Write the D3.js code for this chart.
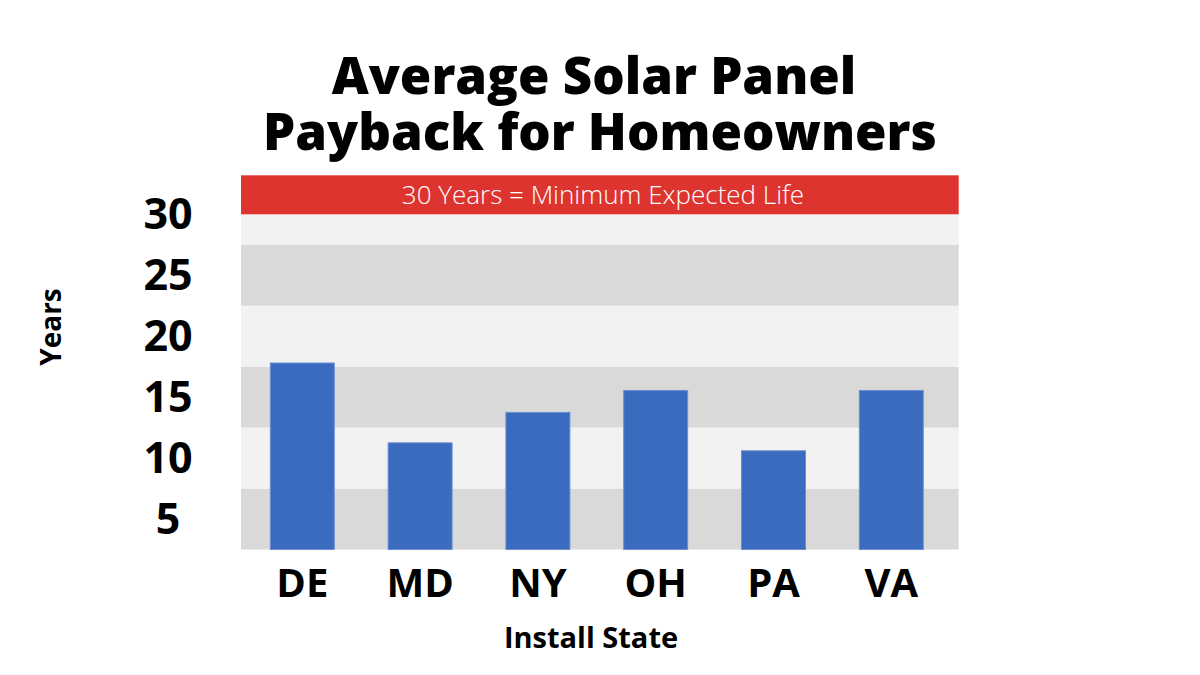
<!DOCTYPE html>
<html>
<head>
<meta charset="utf-8">
<script src="https://cdnjs.cloudflare.com/ajax/libs/d3/7.8.5/d3.min.js"></script>
<style>
  body { margin: 0; background: #fff; }
  text { font-family: "Open Sans", sans-serif; }
</style>
</head>
<body>
<div class="canvas"></div>
<script>
// data
const states = ['DE', 'MD', 'NY', 'OH', 'PA', 'VA'];
const paybackYears = [17.8, 11.25, 13.75, 15.55, 10.6, 15.55];
const tickValues = [5, 10, 15, 20, 25, 30];
// alternating background bands [from, to]
const bandRanges = [[2.5, 7.5], [7.5, 12.5], [12.5, 17.5], [17.5, 22.5], [22.5, 27.5], [27.5, 30]];
const lifeBand = [30, 33.2];
const lifeLabel = '30 Years = Minimum Expected Life';

const BAR_COLOR = '#3a6bbf';
const DARK_BAND = '#d9d9d9';
const LIGHT_BAND = '#f2f2f2';
const RED = '#dd3430';

const svg = d3.select('.canvas')
  .append('svg')
    .attr('width', 1200)
    .attr('height', 675);

const plotLeft = 241, plotRight = 958.7;

const y = d3.scaleLinear()
  .domain([2.5, 33.2])
  .range([549.5, 175.3]);

const x = d3.scaleBand()
  .domain(states)
  .range([243.4, 950.2])
  .paddingInner(0.457)
  .paddingOuter(0.2285);

// background bands
svg.append('g').selectAll('rect')
  .data(bandRanges)
  .enter().append('rect')
    .attr('x', plotLeft)
    .attr('width', plotRight - plotLeft)
    .attr('y', d => y(d[1]))
    .attr('height', d => y(d[0]) - y(d[1]))
    .attr('fill', (d, i) => i % 2 === 0 ? DARK_BAND : LIGHT_BAND);

// red minimum life band
svg.append('rect')
  .attr('x', plotLeft)
  .attr('width', plotRight - plotLeft)
  .attr('y', y(lifeBand[1]))
  .attr('height', y(lifeBand[0]) - y(lifeBand[1]))
  .attr('fill', RED);

svg.append('text')
  .attr('x', 603)
  .attr('y', (y(lifeBand[0]) + y(lifeBand[1])) / 2)
  .attr('dy', '0.35em')
  .attr('text-anchor', 'middle')
  .attr('font-size', 26)
  .attr('font-weight', 300)
  .attr('fill', '#fff')
  .text(lifeLabel);

// bars
svg.append('g').selectAll('rect')
  .data(paybackYears)
  .enter().append('rect')
    .attr('x', (d, i) => x(states[i]))
    .attr('width', x.bandwidth())
    .attr('y', d => y(d))
    .attr('height', d => y(2.5) - y(d))
    .attr('fill', BAR_COLOR)
    .attr('stroke', '#6b8fd2')
    .attr('stroke-width', 1);

// y tick labels
svg.append('g').selectAll('text')
  .data(tickValues)
  .enter().append('text')
    .attr('x', 168)
    .attr('y', d => y(d))
    .attr('dy', '0.35em')
    .attr('text-anchor', 'middle')
    .attr('font-size', 43)
    .attr('font-weight', 700)
    .attr('fill', '#000')
    .text(d => d);

// x category labels
svg.append('g').selectAll('text')
  .data(states)
  .enter().append('text')
    .attr('x', d => x(d) + x.bandwidth() / 2)
    .attr('y', 596.7)
    .attr('text-anchor', 'middle')
    .attr('font-size', 40)
    .attr('font-weight', 700)
    .attr('fill', '#000')
    .text(d => d);

// axis titles
svg.append('text')
  .attr('x', 591)
  .attr('y', 648.3)
  .attr('text-anchor', 'middle')
  .attr('font-size', 29)
  .attr('font-weight', 700)
  .text('Install State');

svg.append('text')
  .attr('transform', 'translate(60.5,327) rotate(-90)')
  .attr('text-anchor', 'middle')
  .attr('font-size', 28)
  .attr('font-weight', 700)
  .text('Years');

// title
const title = svg.append('text')
  .attr('text-anchor', 'middle')
  .attr('font-size', 51)
  .attr('font-weight', 800);
title.append('tspan').attr('x', 594).attr('y', 94).text('Average Solar Panel');
title.append('tspan').attr('x', 600).attr('y', 150).text('Payback for Homeowners');
</script>
</body>
</html>
